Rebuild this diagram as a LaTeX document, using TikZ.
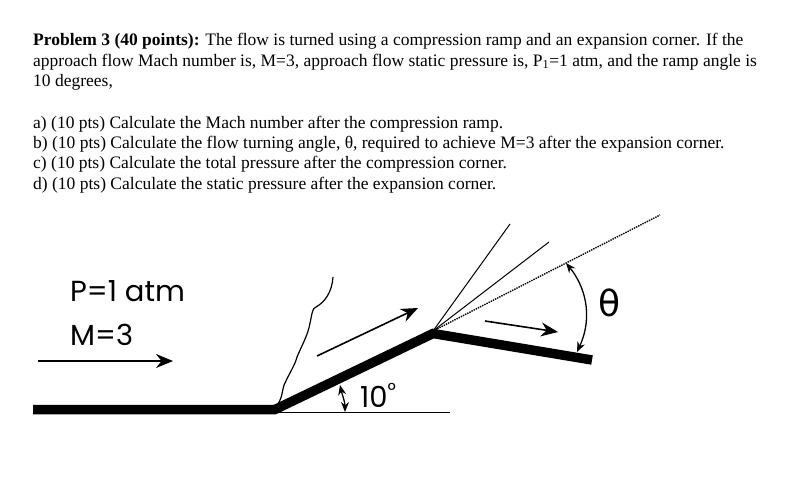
\documentclass[tikz,border=0pt]{standalone}
\usepackage{fontspec}
\setmainfont{Liberation Serif}
\newfontfamily\figfont{Poppins}
\newfontfamily\thetafont{DejaVu Sans}
\usetikzlibrary{positioning, arrows.meta}
\tikzset{
	txtline/.style={anchor=base west,inner sep=0pt,font=\fontsize{17.5}{20}\selectfont},
	figlabel/.style={inner sep=0pt,font=\figfont\fontsize{29}{30}\selectfont},
	wall/.style={line width=9.5pt,line join=miter},
	thin line/.style={line width=1pt},
	flow/.style={line width=1.6pt,-{Stealth[length=17pt,width=14pt]}},
	angle mark/.style={line width=1.3pt,{Stealth[length=10pt,width=8pt]}-{Stealth[length=10pt,width=8pt]}}
}
\begin{document}
\begin{tikzpicture}[x=1pt,y=-1pt]
	\useasboundingbox (0,0) rectangle (805,483);
	% problem text
	\node (l1)[txtline] at (33,45) {\textbf{Problem 3 (40 points):} The flow is turned using a compression ramp and an expansion corner. If the};
	\node (l2)[txtline] at (33,66) {approach flow Mach number is, M=3, approach flow static pressure is, P\textsubscript{1}=1 atm, and the ramp angle is};
	\node (l3)[txtline] at (33,86) {10 degrees,};
	\node (qa)[txtline] at (33,128) {a) (10 pts) Calculate the Mach number after the compression ramp.};
	\node (qb)[txtline] at (33,148) {b) (10 pts) Calculate the flow turning angle, θ, required to achieve M=3 after the expansion corner.};
	\node (qc)[txtline] at (33,168) {c) (10 pts) Calculate the total pressure after the compression corner.};
	\node (qd)[txtline] at (33,189) {d) (10 pts) Calculate the static pressure after the expansion corner.};
	% hull
	\coordinate (start) at (33,409.5);
	\coordinate (ramp) at (275,409.5);
	\coordinate (corner) at (433,333.5);
	\coordinate (tail) at (592,360);
	\draw[wall] (start) -- (ramp) -- (corner) -- (tail);
	\coordinate (base) at (275,412.5);
	\coordinate (baseend) at (450,412.5);
	\draw[thin line] (base) -- (baseend);
	% fan
	\coordinate (fan) at (433,331);
	\coordinate (fana) at (510,224);
	\coordinate (fanb) at (549,242);
	\coordinate (fanc) at (660,215);
	\draw[thin line] (fan) -- (fana);
	\draw[thin line] (fan) -- (fanb);
	\draw[line width=1.4pt,densely dotted] (fan) -- (fanc);
	% shock
	\coordinate (shocka) at (277,405);
	\coordinate (shockb) at (333,277);
	\draw[line width=1.2pt] (shocka) .. controls (283,398) and (282,388) .. (285,383)
		.. controls (290,372) and (295,365) .. (297,357)
		.. controls (302,345) and (308,335) .. (310,323)
		.. controls (312,315) and (312,308) .. (316,307)
		.. controls (325,302) and (332,292) .. (shockb);
	% flow arrows
	\coordinate (fl1a) at (38,361);
	\coordinate (fl1b) at (173,361);
	\coordinate (fl2a) at (317,356);
	\coordinate (fl2b) at (418,308);
	\coordinate (fl3a) at (485,321);
	\coordinate (fl3b) at (558,332);
	\draw[flow] (fl1a) -- (fl1b);
	\draw[flow] (fl2a) -- (fl2b);
	\draw[flow] (fl3a) -- (fl3b);
	% angles
	\coordinate (tha) at (566,263);
	\coordinate (thb) at (577,352);
	\draw[angle mark] (tha) .. controls (584,285) and (594,315) .. (thb);
	\coordinate (tena) at (340,385);
	\coordinate (tenb) at (345,412);
	\draw[angle mark] (tena) .. controls (342,394) and (345,402) .. (tenb);
	% labels
	\node (pres)[figlabel,anchor=base west] at (70,301) {P=1 atm};
	\node (mach)[figlabel,anchor=base west] at (70,345) {M=3};
	\node (ten)[figlabel,anchor=base west] at (360,407) {10\textsuperscript{\textdegree}};
	\node (th)[inner sep=0pt,font=\thetafont\fontsize{36}{40}\selectfont] at (610,303) {θ};
\end{tikzpicture}
\end{document}
